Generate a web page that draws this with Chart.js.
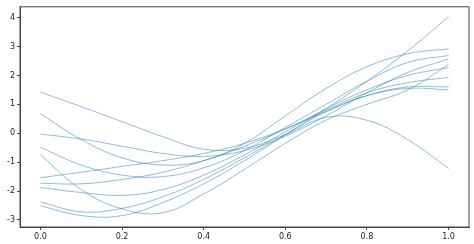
<!DOCTYPE html>
<html>
<head>
<meta charset="utf-8">
<script src="https://cdn.jsdelivr.net/npm/chart.js@4.4.0/dist/chart.umd.min.js"></script>
<style>
  html, body { margin: 0; padding: 0; background: #fff; }
  #wrap { width: 474px; height: 244px; }
</style>
</head>
<body>
<div id="wrap"><canvas id="myChart"></canvas></div>
<script>
const xs = [0, 0.1, 0.2, 0.3, 0.4, 0.5, 0.6, 0.7, 0.8, 0.9, 1.0];
const xTicks = [0, 0.2, 0.4, 0.6, 0.8, 1.0];
const yTicks = [-3, -2, -1, 0, 1, 2, 3, 4];

const s1 = [1.42, 0.92, 0.40, -0.12, -0.55, -0.52, -0.05, 0.55, 0.45, -0.22, -1.22];
const s2 = [0.68, -0.22, -0.85, -1.10, -0.95, -0.35, 0.60, 1.55, 2.30, 2.75, 2.92];
const s3 = [-0.03, -0.20, -0.45, -0.70, -0.80, -0.60, -0.10, 0.60, 1.40, 2.10, 2.57];
const s4 = [-0.49, -1.10, -1.45, -1.50, -1.20, -0.60, 0.20, 1.00, 1.80, 2.45, 2.69];
const s5 = [-0.74, -1.95, -2.62, -2.75, -2.10, -1.25, -0.35, 0.45, 1.00, 1.50, 2.38];
const s6 = [-1.54, -1.35, -1.15, -0.95, -0.70, -0.35, 0.15, 0.75, 1.30, 1.55, 1.50];
const s7 = [-1.73, -1.75, -1.60, -1.35, -0.95, -0.45, 0.15, 0.80, 1.40, 1.75, 1.93];
const s8 = [-1.88, -2.05, -2.15, -1.95, -1.45, -0.75, 0.05, 0.85, 1.50, 2.00, 2.27];
const s9 = [-2.38, -2.72, -2.60, -2.20, -1.60, -0.85, -0.05, 0.75, 1.30, 1.60, 1.60];
const s10 = [-2.51, -2.85, -2.85, -2.40, -1.75, -0.95, -0.05, 0.85, 1.80, 2.85, 4.03];

const series = [s1, s2, s3, s4, s5, s6, s7, s8, s9, s10];

const datasets = series.map((vals) => ({
  data: xs.map((x, i) => ({ x: x, y: vals[i] })),
  borderColor: "rgba(31, 119, 180, 0.55)",
  borderWidth: 0.9,
  pointRadius: 0,
  tension: 0.4,
  fill: false,
}));

// top and right spines, like matplotlib's box
const frame = {
  id: "frame",
  afterDraw(chart) {
    const { ctx, chartArea: a } = chart;
    ctx.save();
    ctx.strokeStyle = "#444";
    ctx.lineWidth = 1;
    ctx.strokeRect(a.left, a.top, a.right - a.left, a.bottom - a.top);
    ctx.restore();
  },
};

const tickFont = { family: "DejaVu Sans", size: 8 };

new Chart(document.getElementById("myChart").getContext("2d"), {
  type: "line",
  data: { datasets },
  options: {
    responsive: true,
    maintainAspectRatio: false,
    animation: false,
    layout: { padding: { top: 4, right: 5, left: 0, bottom: 0 } },
    plugins: { legend: { display: false }, tooltip: { enabled: false } },
    scales: {
      x: {
        type: "linear",
        min: -0.05,
        max: 1.05,
        afterBuildTicks: (scale) => {
          scale.ticks = xTicks.map((v) => ({ value: v }));
        },
        afterFit: (scale) => {
          scale.height = 17;
        },
        ticks: {
          font: tickFont,
          color: "#222",
          padding: 2,
          maxRotation: 0,
          callback: (v) => v.toFixed(1),
        },
        grid: { drawOnChartArea: false, tickLength: 3, color: "#444" },
        border: { color: "#444" },
      },
      y: {
        type: "linear",
        min: -3.245,
        max: 4.375,
        afterBuildTicks: (scale) => {
          scale.ticks = yTicks.map((v) => ({ value: v }));
        },
        afterFit: (scale) => {
          scale.width = 20;
        },
        ticks: {
          font: tickFont,
          color: "#222",
          padding: 2,
          callback: (v) => String(v),
        },
        grid: { drawOnChartArea: false, tickLength: 3, color: "#444" },
        border: { color: "#444" },
      },
    },
  },
  plugins: [frame],
});
</script>
</body>
</html>
